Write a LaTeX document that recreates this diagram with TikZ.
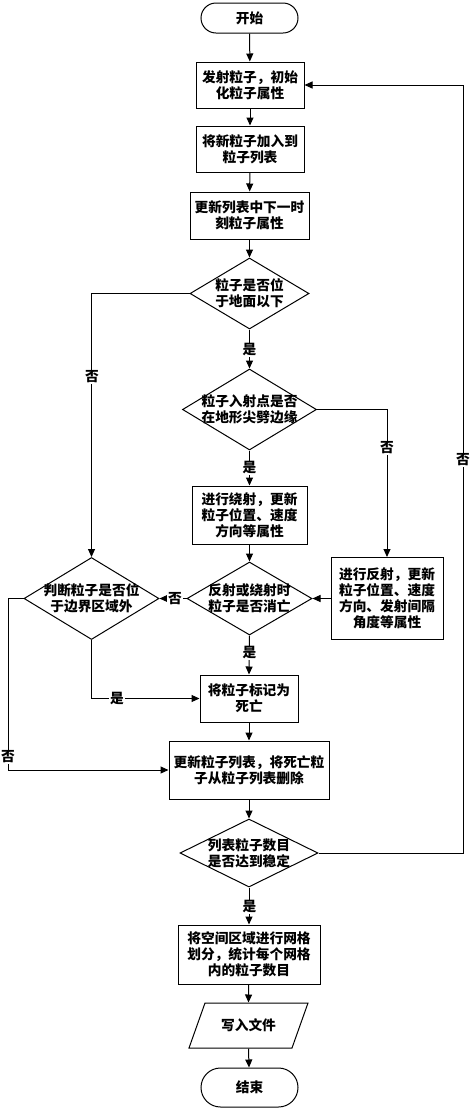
\documentclass[tikz,border=0pt]{standalone}
\usepackage{fontspec}
\setmainfont{Noto Sans CJK SC}
\usetikzlibrary{shapes.geometric,arrows.meta}
\newcommand{\fs}{\fontsize{13.7}{16}\selectfont\bfseries}
\begin{document}
\begin{tikzpicture}[x=1pt,y=-1pt,
  base/.style={line width=1pt, font=\fs, align=center, inner sep=0pt},
  proc/.style={base, draw, rectangle},
  term/.style={base, draw, rectangle},
  dia/.style={base, draw, diamond},
  txt/.style={base},
  lbl/.style={font=\fs, fill=white, inner sep=1pt},
  arr/.style={line width=1pt, -{Triangle[length=8pt,width=7pt]}},
  ln/.style={line width=1pt}]
\useasboundingbox[fill=white] (0,0) rectangle (474,1112);
% nodes
\node[term, rounded corners=15pt, minimum width=97pt, minimum height=30pt] (start) at (249.5,18) {开始};
\node[proc, minimum width=108pt, minimum height=46pt] (b1) at (250,85) {发射粒子，初始\\化粒子属性};
\node[proc, minimum width=108pt, minimum height=46pt] (b2) at (250,149) {将新粒子加入到\\粒子列表};
\node[proc, minimum width=119pt, minimum height=47pt] (b3) at (249.5,215.5) {更新列表中下一时\\刻粒子属性};
\node[dia, minimum width=119pt, minimum height=71pt] (d1) at (249.5,293.5) {};
\node[txt] (d1t) at (d1) {粒子是否位\\于地面以下};
\node[dia, minimum width=134pt, minimum height=81pt] (d2) at (249.5,409.5) {};
\node[txt] (d2t) at (d2) {粒子入射点是否\\在地形尖劈边缘};
\node[proc, minimum width=115pt, minimum height=58pt] (rx) at (249.5,515) {进行绕射，更新\\粒子位置、速度\\方向等属性};
\node[dia, minimum width=125pt, minimum height=73pt] (d3) at (249.5,598.5) {};
\node[txt] (d3t) at (d3) {反射或绕射时\\粒子是否消亡};
\node[dia, minimum width=135pt, minimum height=82pt] (d4) at (91.5,598.5) {};
\node[txt] (d4t) at (d4) {判断粒子是否位\\于边界区域外};
\node[proc, minimum width=112pt, minimum height=82pt] (rb) at (387,598.5) {进行反射，更新\\粒子位置、速度\\方向、发射间隔\\角度等属性};
\node[proc, minimum width=98pt, minimum height=47pt] (dead) at (249,698.5) {将粒子标记为\\死亡};
\node[proc, minimum width=160pt, minimum height=58pt] (upd) at (249,770) {更新粒子列表，将死亡粒\\子从粒子列表删除};
\node[dia, minimum width=138pt, minimum height=68pt] (d5) at (249,853) {};
\node[txt] (d5t) at (d5) {列表粒子数目\\是否达到稳定};
\node[proc, minimum width=142pt, minimum height=59pt] (grid) at (249,954.5) {将空间区域进行网格\\划分，统计每个网格\\内的粒子数目};
\node[txt, minimum width=103pt, minimum height=45pt] (para) at (248.5,1025.5) {写入文件};
\draw[ln] (189,1048) -- (205,1003) -- (308,1003) -- (292,1048) -- cycle;
\node[term, rounded corners=19.5pt, minimum width=97pt, minimum height=39pt] (end) at (249.5,1087.5) {结束};
\coordinate (c1) at (8,598.5);
\coordinate (c2) at (463,853);
% connectors
\draw[arr] (start) -- (b1);
\draw[arr] (b1) -- (b2);
\draw[arr] (b2) -- (b3);
\draw[arr] (b3) -- (d1);
\draw[arr] (d1.south) -- (d2.north);
\draw[arr] (d1.west) -| (d4.north);
\draw[arr] (d2.south) -- (rx.north);
\draw[arr] (d2.east) -| (rb.north);
\draw[arr] (rx) -- (d3.north);
\draw[arr] (rb.west) -- (d3.east);
\draw[arr] (d3.west) -- (d4.east);
\draw[arr] (d3.south) -- (dead.north);
\draw[arr] (d4.south) |- (dead.west);
\draw[arr] (d4.west) -- (c1) |- (upd.west);
\draw[arr] (dead) -- (upd);
\draw[arr] (upd) -- (d5.north);
\draw[arr] (d5.east) -- (c2) |- (b1.east);
\draw[arr] (d5.south) -- (grid.north);
\draw[arr] (grid) -- (para.north);
\draw[arr] (para.south) -- (end);
% labels
\node[lbl] (l1) at (249.5,350) {是};
\node[lbl] (l2) at (92,377) {否};
\node[lbl] (l3) at (249.5,468) {是};
\node[lbl] (l4) at (387,448) {否};
\node[lbl] (l5) at (175,598.5) {否};
\node[lbl] (l6) at (249.5,653) {是};
\node[lbl] (l7) at (117,698.5) {是};
\node[lbl] (l8) at (8,757) {否};
\node[lbl] (l9) at (463,460) {否};
\node[lbl] (l10) at (249.5,907) {是};
\end{tikzpicture}
\end{document}
